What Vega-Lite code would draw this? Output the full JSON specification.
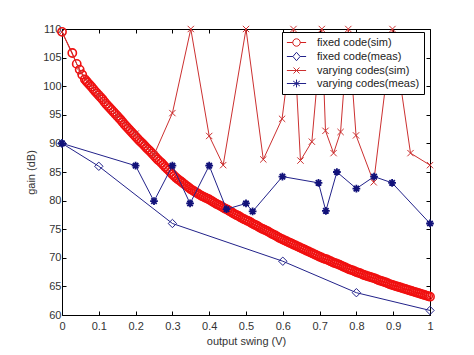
{
  "$schema": "https://vega.github.io/schema/vega-lite/v6.json",
  "width": 368,
  "height": 286,
  "autosize": "none",
  "padding": {"left": 62, "top": 29, "right": 44, "bottom": 40},
  "background": "white",
  "config": {
    "view": {"stroke": "black", "strokeWidth": 1},
    "axis": {
      "grid": false, "domain": false, "ticks": true, "tickColor": "black", "tickSize": -4, "tickWidth": 1,
      "labelFont": "Liberation Sans", "labelFontSize": 11, "labelColor": "#333", "labelPadding": 4,
      "labelFlush": false, "labelOverlap": false,
      "titleFont": "Liberation Sans", "titleFontSize": 11, "titleFontWeight": "normal", "titleColor": "#333"
    }
  },
  "data": {"values": [
    {"series": "fixed code(sim)", "x": 0, "y": 109.5},
    {"series": "fixed code(sim)", "x": 0.028, "y": 105.8},
    {"series": "fixed code(sim)", "x": 0.04, "y": 103.9},
    {"series": "fixed code(sim)", "x": 0.048, "y": 102.9},
    {"series": "fixed code(sim)", "x": 0.055, "y": 102.0},
    {"series": "fixed code(sim)", "x": 0.062, "y": 101.2},
    {"series": "fixed code(sim)", "x": 0.066, "y": 100.9},
    {"series": "fixed code(sim)", "x": 0.07, "y": 100.6},
    {"series": "fixed code(sim)", "x": 0.075, "y": 100.25},
    {"series": "fixed code(sim)", "x": 0.08, "y": 99.9},
    {"series": "fixed code(sim)", "x": 0.085, "y": 99.5},
    {"series": "fixed code(sim)", "x": 0.09, "y": 99.1},
    {"series": "fixed code(sim)", "x": 0.095, "y": 98.75},
    {"series": "fixed code(sim)", "x": 0.10, "y": 98.4},
    {"series": "fixed code(sim)", "x": 0.105, "y": 98.05},
    {"series": "fixed code(sim)", "x": 0.11, "y": 97.7},
    {"series": "fixed code(sim)", "x": 0.115, "y": 97.3},
    {"series": "fixed code(sim)", "x": 0.12, "y": 96.9},
    {"series": "fixed code(sim)", "x": 0.125, "y": 96.55},
    {"series": "fixed code(sim)", "x": 0.13, "y": 96.2},
    {"series": "fixed code(sim)", "x": 0.135, "y": 95.85},
    {"series": "fixed code(sim)", "x": 0.14, "y": 95.5},
    {"series": "fixed code(sim)", "x": 0.145, "y": 95.15},
    {"series": "fixed code(sim)", "x": 0.15, "y": 94.8},
    {"series": "fixed code(sim)", "x": 0.155, "y": 94.45},
    {"series": "fixed code(sim)", "x": 0.16, "y": 94.1},
    {"series": "fixed code(sim)", "x": 0.165, "y": 93.7},
    {"series": "fixed code(sim)", "x": 0.17, "y": 93.3},
    {"series": "fixed code(sim)", "x": 0.175, "y": 92.95},
    {"series": "fixed code(sim)", "x": 0.18, "y": 92.6},
    {"series": "fixed code(sim)", "x": 0.185, "y": 92.25},
    {"series": "fixed code(sim)", "x": 0.19, "y": 91.9},
    {"series": "fixed code(sim)", "x": 0.195, "y": 91.55},
    {"series": "fixed code(sim)", "x": 0.20, "y": 91.2},
    {"series": "fixed code(sim)", "x": 0.205, "y": 90.85},
    {"series": "fixed code(sim)", "x": 0.21, "y": 90.5},
    {"series": "fixed code(sim)", "x": 0.215, "y": 90.2},
    {"series": "fixed code(sim)", "x": 0.22, "y": 89.9},
    {"series": "fixed code(sim)", "x": 0.225, "y": 89.55},
    {"series": "fixed code(sim)", "x": 0.23, "y": 89.2},
    {"series": "fixed code(sim)", "x": 0.235, "y": 88.9},
    {"series": "fixed code(sim)", "x": 0.24, "y": 88.6},
    {"series": "fixed code(sim)", "x": 0.245, "y": 88.25},
    {"series": "fixed code(sim)", "x": 0.25, "y": 87.9},
    {"series": "fixed code(sim)", "x": 0.255, "y": 87.55},
    {"series": "fixed code(sim)", "x": 0.26, "y": 87.2},
    {"series": "fixed code(sim)", "x": 0.265, "y": 86.9},
    {"series": "fixed code(sim)", "x": 0.27, "y": 86.6},
    {"series": "fixed code(sim)", "x": 0.275, "y": 86.25},
    {"series": "fixed code(sim)", "x": 0.28, "y": 85.9},
    {"series": "fixed code(sim)", "x": 0.285, "y": 85.6},
    {"series": "fixed code(sim)", "x": 0.29, "y": 85.3},
    {"series": "fixed code(sim)", "x": 0.295, "y": 84.95},
    {"series": "fixed code(sim)", "x": 0.30, "y": 84.6},
    {"series": "fixed code(sim)", "x": 0.305, "y": 84.3},
    {"series": "fixed code(sim)", "x": 0.31, "y": 84.0},
    {"series": "fixed code(sim)", "x": 0.315, "y": 83.75},
    {"series": "fixed code(sim)", "x": 0.32, "y": 83.5},
    {"series": "fixed code(sim)", "x": 0.325, "y": 83.25},
    {"series": "fixed code(sim)", "x": 0.33, "y": 83.0},
    {"series": "fixed code(sim)", "x": 0.335, "y": 82.75},
    {"series": "fixed code(sim)", "x": 0.34, "y": 82.5},
    {"series": "fixed code(sim)", "x": 0.345, "y": 82.25},
    {"series": "fixed code(sim)", "x": 0.35, "y": 82.0},
    {"series": "fixed code(sim)", "x": 0.355, "y": 81.8},
    {"series": "fixed code(sim)", "x": 0.36, "y": 81.6},
    {"series": "fixed code(sim)", "x": 0.365, "y": 81.4},
    {"series": "fixed code(sim)", "x": 0.37, "y": 81.2},
    {"series": "fixed code(sim)", "x": 0.375, "y": 81.0},
    {"series": "fixed code(sim)", "x": 0.38, "y": 80.8},
    {"series": "fixed code(sim)", "x": 0.385, "y": 80.65},
    {"series": "fixed code(sim)", "x": 0.39, "y": 80.5},
    {"series": "fixed code(sim)", "x": 0.395, "y": 80.35},
    {"series": "fixed code(sim)", "x": 0.40, "y": 80.2},
    {"series": "fixed code(sim)", "x": 0.405, "y": 80.0},
    {"series": "fixed code(sim)", "x": 0.41, "y": 79.8},
    {"series": "fixed code(sim)", "x": 0.415, "y": 79.6},
    {"series": "fixed code(sim)", "x": 0.42, "y": 79.4},
    {"series": "fixed code(sim)", "x": 0.425, "y": 79.25},
    {"series": "fixed code(sim)", "x": 0.43, "y": 79.1},
    {"series": "fixed code(sim)", "x": 0.435, "y": 78.9},
    {"series": "fixed code(sim)", "x": 0.44, "y": 78.7},
    {"series": "fixed code(sim)", "x": 0.445, "y": 78.55},
    {"series": "fixed code(sim)", "x": 0.45, "y": 78.4},
    {"series": "fixed code(sim)", "x": 0.455, "y": 78.2},
    {"series": "fixed code(sim)", "x": 0.46, "y": 78.0},
    {"series": "fixed code(sim)", "x": 0.465, "y": 77.8},
    {"series": "fixed code(sim)", "x": 0.47, "y": 77.6},
    {"series": "fixed code(sim)", "x": 0.475, "y": 77.45},
    {"series": "fixed code(sim)", "x": 0.48, "y": 77.3},
    {"series": "fixed code(sim)", "x": 0.485, "y": 77.1},
    {"series": "fixed code(sim)", "x": 0.49, "y": 76.9},
    {"series": "fixed code(sim)", "x": 0.495, "y": 76.75},
    {"series": "fixed code(sim)", "x": 0.50, "y": 76.6},
    {"series": "fixed code(sim)", "x": 0.505, "y": 76.45},
    {"series": "fixed code(sim)", "x": 0.51, "y": 76.3},
    {"series": "fixed code(sim)", "x": 0.515, "y": 76.1},
    {"series": "fixed code(sim)", "x": 0.52, "y": 75.9},
    {"series": "fixed code(sim)", "x": 0.525, "y": 75.75},
    {"series": "fixed code(sim)", "x": 0.53, "y": 75.6},
    {"series": "fixed code(sim)", "x": 0.535, "y": 75.4},
    {"series": "fixed code(sim)", "x": 0.54, "y": 75.2},
    {"series": "fixed code(sim)", "x": 0.545, "y": 75.05},
    {"series": "fixed code(sim)", "x": 0.55, "y": 74.9},
    {"series": "fixed code(sim)", "x": 0.555, "y": 74.75},
    {"series": "fixed code(sim)", "x": 0.56, "y": 74.6},
    {"series": "fixed code(sim)", "x": 0.565, "y": 74.4},
    {"series": "fixed code(sim)", "x": 0.57, "y": 74.2},
    {"series": "fixed code(sim)", "x": 0.575, "y": 74.05},
    {"series": "fixed code(sim)", "x": 0.58, "y": 73.9},
    {"series": "fixed code(sim)", "x": 0.585, "y": 73.7},
    {"series": "fixed code(sim)", "x": 0.59, "y": 73.5},
    {"series": "fixed code(sim)", "x": 0.595, "y": 73.35},
    {"series": "fixed code(sim)", "x": 0.60, "y": 73.2},
    {"series": "fixed code(sim)", "x": 0.605, "y": 73.05},
    {"series": "fixed code(sim)", "x": 0.61, "y": 72.9},
    {"series": "fixed code(sim)", "x": 0.615, "y": 72.75},
    {"series": "fixed code(sim)", "x": 0.62, "y": 72.6},
    {"series": "fixed code(sim)", "x": 0.625, "y": 72.45},
    {"series": "fixed code(sim)", "x": 0.63, "y": 72.3},
    {"series": "fixed code(sim)", "x": 0.635, "y": 72.15},
    {"series": "fixed code(sim)", "x": 0.64, "y": 72.0},
    {"series": "fixed code(sim)", "x": 0.645, "y": 71.85},
    {"series": "fixed code(sim)", "x": 0.65, "y": 71.7},
    {"series": "fixed code(sim)", "x": 0.655, "y": 71.55},
    {"series": "fixed code(sim)", "x": 0.66, "y": 71.4},
    {"series": "fixed code(sim)", "x": 0.665, "y": 71.25},
    {"series": "fixed code(sim)", "x": 0.67, "y": 71.1},
    {"series": "fixed code(sim)", "x": 0.675, "y": 70.95},
    {"series": "fixed code(sim)", "x": 0.68, "y": 70.8},
    {"series": "fixed code(sim)", "x": 0.685, "y": 70.65},
    {"series": "fixed code(sim)", "x": 0.69, "y": 70.5},
    {"series": "fixed code(sim)", "x": 0.695, "y": 70.35},
    {"series": "fixed code(sim)", "x": 0.70, "y": 70.2},
    {"series": "fixed code(sim)", "x": 0.705, "y": 70.05},
    {"series": "fixed code(sim)", "x": 0.71, "y": 69.9},
    {"series": "fixed code(sim)", "x": 0.715, "y": 69.8},
    {"series": "fixed code(sim)", "x": 0.72, "y": 69.7},
    {"series": "fixed code(sim)", "x": 0.725, "y": 69.55},
    {"series": "fixed code(sim)", "x": 0.73, "y": 69.4},
    {"series": "fixed code(sim)", "x": 0.735, "y": 69.25},
    {"series": "fixed code(sim)", "x": 0.74, "y": 69.1},
    {"series": "fixed code(sim)", "x": 0.745, "y": 69.0},
    {"series": "fixed code(sim)", "x": 0.75, "y": 68.9},
    {"series": "fixed code(sim)", "x": 0.755, "y": 68.75},
    {"series": "fixed code(sim)", "x": 0.76, "y": 68.6},
    {"series": "fixed code(sim)", "x": 0.765, "y": 68.45},
    {"series": "fixed code(sim)", "x": 0.77, "y": 68.3},
    {"series": "fixed code(sim)", "x": 0.775, "y": 68.15},
    {"series": "fixed code(sim)", "x": 0.78, "y": 68.0},
    {"series": "fixed code(sim)", "x": 0.785, "y": 67.9},
    {"series": "fixed code(sim)", "x": 0.79, "y": 67.8},
    {"series": "fixed code(sim)", "x": 0.795, "y": 67.65},
    {"series": "fixed code(sim)", "x": 0.80, "y": 67.5},
    {"series": "fixed code(sim)", "x": 0.805, "y": 67.4},
    {"series": "fixed code(sim)", "x": 0.81, "y": 67.3},
    {"series": "fixed code(sim)", "x": 0.815, "y": 67.15},
    {"series": "fixed code(sim)", "x": 0.82, "y": 67.0},
    {"series": "fixed code(sim)", "x": 0.825, "y": 66.9},
    {"series": "fixed code(sim)", "x": 0.83, "y": 66.8},
    {"series": "fixed code(sim)", "x": 0.835, "y": 66.7},
    {"series": "fixed code(sim)", "x": 0.84, "y": 66.6},
    {"series": "fixed code(sim)", "x": 0.845, "y": 66.5},
    {"series": "fixed code(sim)", "x": 0.85, "y": 66.4},
    {"series": "fixed code(sim)", "x": 0.855, "y": 66.25},
    {"series": "fixed code(sim)", "x": 0.86, "y": 66.1},
    {"series": "fixed code(sim)", "x": 0.865, "y": 66.0},
    {"series": "fixed code(sim)", "x": 0.87, "y": 65.9},
    {"series": "fixed code(sim)", "x": 0.875, "y": 65.8},
    {"series": "fixed code(sim)", "x": 0.88, "y": 65.7},
    {"series": "fixed code(sim)", "x": 0.885, "y": 65.55},
    {"series": "fixed code(sim)", "x": 0.89, "y": 65.4},
    {"series": "fixed code(sim)", "x": 0.895, "y": 65.3},
    {"series": "fixed code(sim)", "x": 0.90, "y": 65.2},
    {"series": "fixed code(sim)", "x": 0.905, "y": 65.1},
    {"series": "fixed code(sim)", "x": 0.91, "y": 65.0},
    {"series": "fixed code(sim)", "x": 0.915, "y": 64.9},
    {"series": "fixed code(sim)", "x": 0.92, "y": 64.8},
    {"series": "fixed code(sim)", "x": 0.925, "y": 64.7},
    {"series": "fixed code(sim)", "x": 0.93, "y": 64.6},
    {"series": "fixed code(sim)", "x": 0.935, "y": 64.5},
    {"series": "fixed code(sim)", "x": 0.94, "y": 64.4},
    {"series": "fixed code(sim)", "x": 0.945, "y": 64.3},
    {"series": "fixed code(sim)", "x": 0.95, "y": 64.2},
    {"series": "fixed code(sim)", "x": 0.955, "y": 64.1},
    {"series": "fixed code(sim)", "x": 0.96, "y": 64.0},
    {"series": "fixed code(sim)", "x": 0.965, "y": 63.9},
    {"series": "fixed code(sim)", "x": 0.97, "y": 63.8},
    {"series": "fixed code(sim)", "x": 0.975, "y": 63.7},
    {"series": "fixed code(sim)", "x": 0.98, "y": 63.6},
    {"series": "fixed code(sim)", "x": 0.985, "y": 63.5},
    {"series": "fixed code(sim)", "x": 0.99, "y": 63.4},
    {"series": "fixed code(sim)", "x": 0.995, "y": 63.3},
    {"series": "fixed code(sim)", "x": 1.00, "y": 63.2},
    {"series": "fixed code(meas)", "x": 0, "y": 90.0},
    {"series": "fixed code(meas)", "x": 0.1, "y": 86.0},
    {"series": "fixed code(meas)", "x": 0.3, "y": 76.0},
    {"series": "fixed code(meas)", "x": 0.6, "y": 69.4},
    {"series": "fixed code(meas)", "x": 0.8, "y": 63.9},
    {"series": "fixed code(meas)", "x": 1.0, "y": 60.8},
    {"series": "varying codes(sim)", "x": 0, "y": 109.5},
    {"series": "varying codes(sim)", "x": 0.05, "y": 102.5},
    {"series": "varying codes(sim)", "x": 0.1, "y": 98.4},
    {"series": "varying codes(sim)", "x": 0.15, "y": 94.8},
    {"series": "varying codes(sim)", "x": 0.2, "y": 91.7},
    {"series": "varying codes(sim)", "x": 0.25, "y": 88.0},
    {"series": "varying codes(sim)", "x": 0.3, "y": 95.3},
    {"series": "varying codes(sim)", "x": 0.35, "y": 110},
    {"series": "varying codes(sim)", "x": 0.4, "y": 91.3},
    {"series": "varying codes(sim)", "x": 0.438, "y": 86.2},
    {"series": "varying codes(sim)", "x": 0.5, "y": 110},
    {"series": "varying codes(sim)", "x": 0.547, "y": 87.2},
    {"series": "varying codes(sim)", "x": 0.598, "y": 94.3},
    {"series": "varying codes(sim)", "x": 0.629, "y": 110},
    {"series": "varying codes(sim)", "x": 0.648, "y": 87.0},
    {"series": "varying codes(sim)", "x": 0.679, "y": 90.3},
    {"series": "varying codes(sim)", "x": 0.706, "y": 110},
    {"series": "varying codes(sim)", "x": 0.716, "y": 92.2},
    {"series": "varying codes(sim)", "x": 0.738, "y": 88.3},
    {"series": "varying codes(sim)", "x": 0.757, "y": 92.0},
    {"series": "varying codes(sim)", "x": 0.778, "y": 110},
    {"series": "varying codes(sim)", "x": 0.799, "y": 91.4},
    {"series": "varying codes(sim)", "x": 0.847, "y": 83.2},
    {"series": "varying codes(sim)", "x": 0.898, "y": 110},
    {"series": "varying codes(sim)", "x": 0.947, "y": 88.3},
    {"series": "varying codes(sim)", "x": 1.0, "y": 86.2},
    {"series": "varying codes(meas)", "x": 0, "y": 90.0},
    {"series": "varying codes(meas)", "x": 0.2, "y": 86.1},
    {"series": "varying codes(meas)", "x": 0.25, "y": 79.9},
    {"series": "varying codes(meas)", "x": 0.3, "y": 86.1},
    {"series": "varying codes(meas)", "x": 0.348, "y": 79.5},
    {"series": "varying codes(meas)", "x": 0.4, "y": 86.1},
    {"series": "varying codes(meas)", "x": 0.447, "y": 78.5},
    {"series": "varying codes(meas)", "x": 0.5, "y": 79.5},
    {"series": "varying codes(meas)", "x": 0.518, "y": 78.1},
    {"series": "varying codes(meas)", "x": 0.599, "y": 84.2},
    {"series": "varying codes(meas)", "x": 0.697, "y": 83.1},
    {"series": "varying codes(meas)", "x": 0.717, "y": 78.2},
    {"series": "varying codes(meas)", "x": 0.747, "y": 85.0},
    {"series": "varying codes(meas)", "x": 0.8, "y": 82.1},
    {"series": "varying codes(meas)", "x": 0.848, "y": 84.2},
    {"series": "varying codes(meas)", "x": 0.897, "y": 83.1},
    {"series": "varying codes(meas)", "x": 1.0, "y": 76.0}
  ]},
  "encoding": {
    "x": {"field": "x", "type": "quantitative", "scale": {"domain": [0, 1], "nice": false, "zero": false}, "axis": null},
    "y": {"field": "y", "type": "quantitative", "scale": {"domain": [60, 110], "nice": false, "zero": false}, "axis": null}
  },
  "layer": [
    {"transform": [{"filter": "datum.series === 'fixed code(sim)'"}],
     "mark": {"type": "line", "color": "#e01010", "strokeWidth": 1},
     "encoding": {
       "x": {"field": "x", "type": "quantitative",
         "axis": {"orient": "bottom", "title": "output swing (V)", "values": [0, 0.1, 0.2, 0.3, 0.4, 0.5, 0.6, 0.7, 0.8, 0.9, 1], "format": "~g", "labelPadding": 9, "titlePadding": 4}},
       "y": {"field": "y", "type": "quantitative",
         "axis": {"orient": "left", "title": "gain (dB)", "values": [60, 65, 70, 75, 80, 85, 90, 95, 100, 105, 110], "labelPadding": 5, "titlePadding": 6}}
     }},
    {"transform": [{"filter": "datum.series === 'fixed code(sim)'"}],
     "mark": {"type": "point", "shape": "circle", "filled": false, "color": "#f01010", "size": 68, "strokeWidth": 1.6, "opacity": 1}},
    {"transform": [{"filter": "datum.series === 'fixed code(meas)'"}],
     "mark": {"type": "line", "color": "#22228a", "strokeWidth": 1}},
    {"transform": [{"filter": "datum.series === 'fixed code(meas)'"}],
     "mark": {"type": "point", "shape": "diamond", "filled": false, "color": "#22228a", "size": 70, "strokeWidth": 1, "opacity": 1}},
    {"transform": [{"filter": "datum.series === 'varying codes(sim)'"}],
     "mark": {"type": "line", "color": "#cc3030", "strokeWidth": 1}},
    {"transform": [{"filter": "datum.series === 'varying codes(sim)'"}],
     "mark": {"type": "point", "shape": "M-1,-1L1,1M-1,1L1,-1", "filled": false, "color": "#cc3030", "size": 40, "strokeWidth": 1, "opacity": 1}},
    {"transform": [{"filter": "datum.series === 'varying codes(meas)'"}],
     "mark": {"type": "line", "color": "#22228a", "strokeWidth": 1}},
    {"transform": [{"filter": "datum.series === 'varying codes(meas)'"}],
     "mark": {"type": "point", "shape": "M0,-1V1M-1,0H1M-0.7,-0.7L0.7,0.7M-0.7,0.7L0.7,-0.7", "filled": false, "color": "#12127a", "size": 60, "strokeWidth": 1.8, "opacity": 1},
     "encoding": {
       "x": {"field": "x", "type": "quantitative", "axis": {"orient": "top", "labels": false, "title": null, "values": [0, 0.1, 0.2, 0.3, 0.4, 0.5, 0.6, 0.7, 0.8, 0.9, 1]}},
       "y": {"field": "y", "type": "quantitative", "axis": {"orient": "right", "labels": false, "title": null, "values": [60, 65, 70, 75, 80, 85, 90, 95, 100, 105, 110]}}
     }},
    {"mark": {"type": "point", "filled": false, "opacity": 0},
     "encoding": {
       "color": {"field": "series", "type": "nominal",
         "scale": {"domain": ["fixed code(sim)", "fixed code(meas)", "varying codes(sim)", "varying codes(meas)"],
                   "range": ["#d42020", "#22228a", "#cc3030", "#22228a"]},
         "legend": {"title": null, "orient": "none", "legendX": 220, "legendY": 3, "strokeColor": "black", "fillColor": "white",
           "padding": 4, "labelFont": "Liberation Sans", "labelFontSize": 11, "labelColor": "#222",
           "symbolSize": 144, "symbolStrokeWidth": 1, "symbolOpacity": 1, "rowPadding": 1, "labelOffset": 14, "symbolOffset": 4}},
       "shape": {"field": "series", "type": "nominal",
         "scale": {"domain": ["fixed code(sim)", "fixed code(meas)", "varying codes(sim)", "varying codes(meas)"],
                   "range": ["M-1.6,0H-0.62M0.62,0H1.6M-0.62,0A0.62,0.62,0,1,1,0.62,0A0.62,0.62,0,1,1,-0.62,0",
                             "M-1.6,0H-0.6M0.6,0H1.6M-0.6,0L0,-0.7L0.6,0L0,0.7Z",
                             "M-1.6,0H1.6M-0.5,-0.5L0.5,0.5M-0.5,0.5L0.5,-0.5",
                             "M-1.6,0H1.6M0,-0.65V0.65M-0.55,-0.4L0.55,0.4M-0.55,0.4L0.55,-0.4"]}}
     }}
  ]
}
